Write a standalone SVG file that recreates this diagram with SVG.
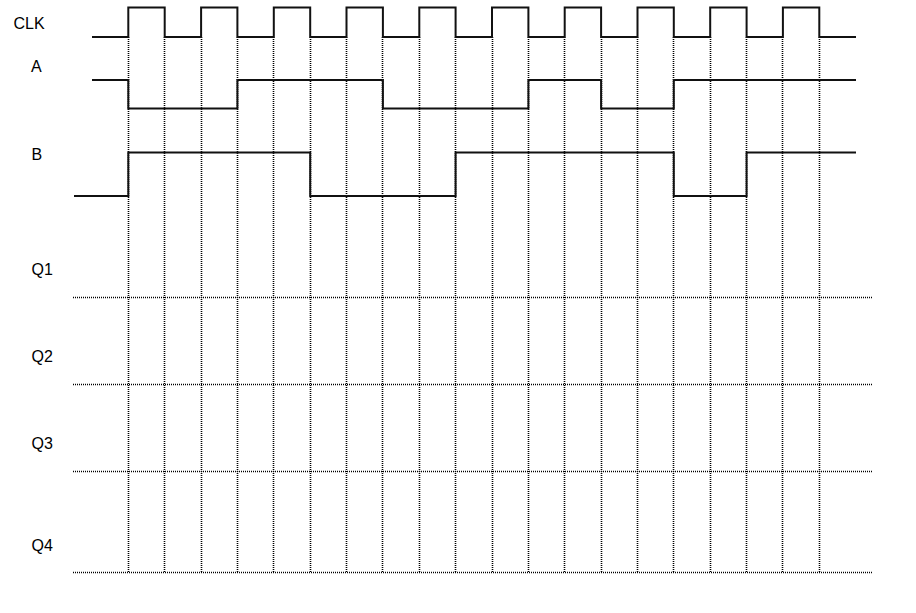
<svg xmlns="http://www.w3.org/2000/svg" width="916" height="613" viewBox="0 0 916 613">
<style>
.lbl{font-family:"Liberation Sans",Arial,sans-serif;font-size:16px;fill:#000}
.sig{fill:none;stroke:#111;stroke-width:2;stroke-linejoin:miter}
.grid{fill:none;stroke:#000;stroke-width:1.6;stroke-dasharray:1 1}
</style>
<rect width="916" height="613" fill="#fff"/>
<g id="grid">
<path class="grid" d="M128.5 37V572M164.5 37V572M201.5 37V572M237.5 37V572M273.5 37V572M310.5 37V572M346.5 37V572M382.5 37V572M419.5 37V572M455.5 37V572M492.5 37V572M528.5 37V572M564.5 37V572M601.5 37V572M637.5 37V572M673.5 37V572M710.5 37V572M746.5 37V572M782.5 37V572M819.5 37V572"/>
<path class="grid" d="M73 297.5H873M73 384.5H873M73 471.5H873M73 572.5H873"/>
</g>
<g id="CLK">
<text class="lbl" x="13.5" y="29">CLK</text>
<path class="sig" d="M92 37H128.3V7.5H164.7V37H201.1V7.5H237.4V37H273.8V7.5H310.2V37H346.5V7.5H382.9V37H419.3V7.5H455.6V37H492V7.5H528.4V37H564.7V7.5H601.1V37H637.5V7.5H673.8V37H710.2V7.5H746.6V37H782.9V7.5H819.3V37H856"/>
</g>
<g id="A">
<text class="lbl" x="31" y="72">A</text>
<path class="sig" d="M92 80H128.3V108.5H237.4V80H382.9V108.5H528.4V80H601.1V108.5H673.8V80H856"/>
</g>
<g id="B">
<text class="lbl" x="31.5" y="160">B</text>
<path class="sig" d="M74 196H128.3V152.5H310.2V196H455.6V152.5H673.8V196H746.6V152.5H856"/>
</g>
<g id="Q1"><text class="lbl" x="31.5" y="275">Q1</text></g>
<g id="Q2"><text class="lbl" x="31.5" y="362">Q2</text></g>
<g id="Q3"><text class="lbl" x="31.5" y="449">Q3</text></g>
<g id="Q4"><text class="lbl" x="31.5" y="551">Q4</text></g>
</svg>
